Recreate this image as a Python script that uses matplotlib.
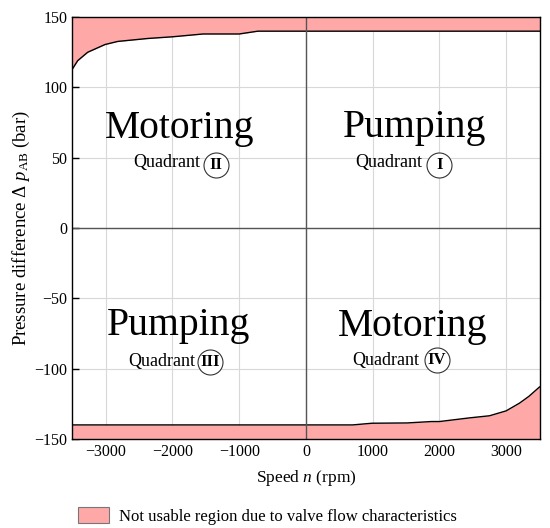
import numpy as np
import matplotlib
matplotlib.use("Agg")
import matplotlib.pyplot as plt
from matplotlib.patches import Patch

plt.rcParams['font.family'] = ['Liberation Serif', 'DejaVu Serif']
plt.rcParams['mathtext.fontset'] = 'custom'
plt.rcParams['mathtext.rm'] = 'Liberation Serif'
plt.rcParams['mathtext.it'] = 'Liberation Serif:italic'

# upper limit of usable pressure difference (bar) vs speed (rpm)
speed_top = [-3500, -3420, -3270, -3010, -2820, -2370, -2000, -1540, -1000, -720, 3500]
limit_top = [113, 119, 125, 130.5, 132.7, 134.8, 136, 138, 138, 140, 140]

# lower limit
speed_bot = [-3500, 700, 990, 1515, 1880, 2000, 2450, 2750, 3000, 3200, 3340, 3500]
limit_bot = [-140, -140, -138.8, -138.6, -137.6, -137.6, -135, -133.5, -130, -124.5, -119.7, -113]

x_ticks = [-3000, -2000, -1000, 0, 1000, 2000, 3000]
y_ticks = [-150, -100, -50, 0, 50, 100, 150]

mode_labels = ['Motoring', 'Pumping', 'Pumping', 'Motoring']
quadrants = ['II', 'I', 'III', 'IV']
mode_pos = [(-1890, 64), (1620, 64.5), (-1910, -76), (1604, -76.5)]
quad_pos = [(-2084, 43.5), (1237, 43.5), (-2166, -98), (1192, -97.5)]
circ_pos = [(-1350, 44.5), (2000, 44.5), (-1432, -95), (1964, -94)]

fill_col = '#ffa8a8'

fig = plt.figure(figsize=(5.5, 5.28), dpi=100)
ax = fig.add_axes([0.1315, 0.1686, 0.8495, 0.799])

ax.fill_between(speed_top, limit_top, 150, color=fill_col, lw=0)
ax.fill_between(speed_bot, -150, limit_bot, color=fill_col, lw=0)
ax.plot(speed_top, limit_top, color='black', lw=1)
ax.plot(speed_bot, limit_bot, color='black', lw=1)

ax.axhline(0, color='#555555', lw=1)
ax.axvline(0, color='#555555', lw=1)

ax.set_xlim(-3500, 3500)
ax.set_ylim(-150, 150)
ax.set_xticks(x_ticks)
ax.set_yticks(y_ticks)
ax.grid(True, color='#d8d8d8', lw=0.8)
ax.set_axisbelow(True)
ax.tick_params(direction='in', length=5, labelsize=11.5, width=1)
for s in ax.spines.values():
    s.set_linewidth(1)

for lab, (x, y) in zip(mode_labels, mode_pos):
    ax.text(x, y, lab, fontsize=28.5, ha='center', va='baseline')
for q, (x, y), (cx, cy) in zip(quadrants, quad_pos, circ_pos):
    ax.text(x, y, 'Quadrant', fontsize=13, ha='center', va='baseline')
    ax.plot(cx, cy, 'o', ms=18, mfc='white', mec='#333333', mew=0.8, zorder=3)
    ax.text(cx, cy, q, fontsize=12, fontweight='bold', ha='center', va='center', zorder=4)

ax.set_xlabel('Speed $n$ (rpm)', fontsize=12.5, labelpad=6)
ax.set_ylabel(r'Pressure difference $\Delta$ $p_{\mathrm{AB}}$ (bar)', fontsize=13.5, labelpad=2)

fig.legend(handles=[Patch(facecolor=fill_col, edgecolor='#777777', lw=0.8,
                          label='Not usable region due to valve flow characteristics')],
           loc='lower left', bbox_to_anchor=(0.114, -0.022), frameon=False, fontsize=12,
           handlelength=1.9, handleheight=1.1, handletextpad=0.6)

fig.savefig('out.png', dpi=100)
